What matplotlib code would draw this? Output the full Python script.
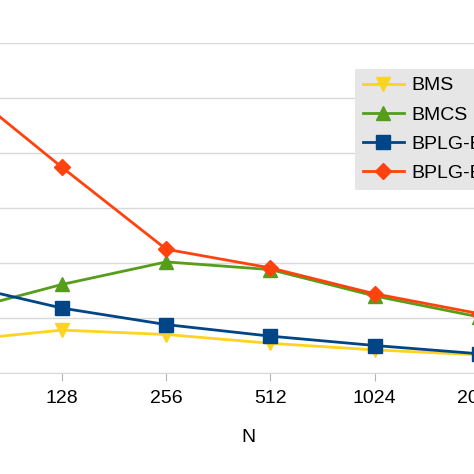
import matplotlib
matplotlib.use("Agg")
import matplotlib.pyplot as plt

plt.rcParams["font.family"] = ["Liberation Sans", "DejaVu Sans"]

n_labels = ["64", "128", "256", "512", "1024", "2048"]
bms = [0.59, 0.78, 0.70, 0.54, 0.42, 0.33]
bmcs = [1.11, 1.61, 2.02, 1.88, 1.40, 1.02]
bplg_b1 = [1.62, 1.18, 0.88, 0.67, 0.50, 0.35]
bplg_b2 = [5.28, 3.74, 2.25, 1.91, 1.44, 1.08]
series_names = ["BMS", "BMCS", "BPLG-BMS", "BPLG-BMCS"]

colors = ["#ffd320", "#579d1c", "#004586", "#ff420e"]
markers = ["v", "^", "s", "D"]
msizes = [10, 10, 10, 8]

fig = plt.figure(figsize=(4.74, 4.74), dpi=100)
# the original chart is cropped, so the axes run past the figure edges
ax = fig.add_axes([-94.4 / 474, 101 / 474, 625.5 / 474, 330 / 474])

x = list(range(len(n_labels)))
for vals, name, c, m, ms in zip([bms, bmcs, bplg_b1, bplg_b2], series_names, colors, markers, msizes):
    ax.plot(x, vals, color=c, marker=m, markersize=ms, linewidth=2, label=name)

ax.set_xlim(-0.5, 5.5)
ax.set_ylim(0, 6)
ax.set_yticks(range(7))
ax.set_yticklabels([])
ax.tick_params(axis="y", length=0)
ax.set_xticks(x)
ax.set_xticklabels(n_labels, fontsize=14)
ax.tick_params(axis="x", length=6, color="#b3b3b3", pad=6.5)
ax.grid(axis="y", color="#d9d9d9", linewidth=1)
ax.set_axisbelow(True)
for s in ["top", "left", "right"]:
    ax.spines[s].set_visible(False)
ax.spines["bottom"].set_color("#d9d9d9")
ax.set_xlabel("N", fontsize=14, labelpad=17)
ax.xaxis.set_label_coords(0.5474, -0.17)

leg = ax.legend(loc="upper left", bbox_to_anchor=(355 / 474, 1 - 69 / 474),
                bbox_transform=fig.transFigure, borderaxespad=0, fontsize=14,
                frameon=True, fancybox=False, facecolor="#e6e6e6", edgecolor="none",
                framealpha=1, handlelength=2.1, handletextpad=0.4, labelspacing=0.6,
                borderpad=0.4)

fig.savefig("out.png", dpi=100)
